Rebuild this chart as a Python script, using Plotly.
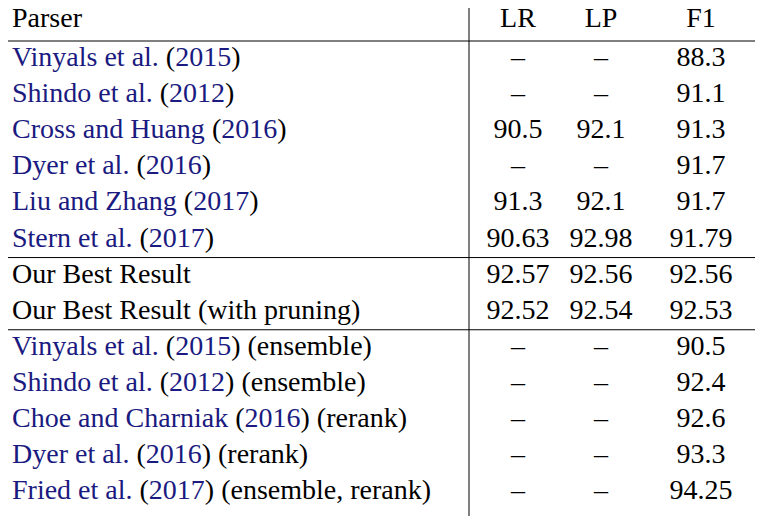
import plotly.graph_objects as go

authors = ["Vinyals et al.", "Shindo et al.", "Cross and Huang", "Dyer et al.", "Liu and Zhang",
           "Stern et al.", "Our Best Result", "Our Best Result (with pruning)", "Vinyals et al.",
           "Shindo et al.", "Choe and Charniak", "Dyer et al.", "Fried et al."]
years = ["2015", "2012", "2016", "2016", "2017", "2017", "", "", "2015", "2012", "2016", "2016", "2017"]
suffix = ["", "", "", "", "", "", "", "", " (ensemble)", " (ensemble)", " (rerank)", " (rerank)",
          " (ensemble, rerank)"]
lr = ["–", "–", "90.5", "–", "91.3", "90.63", "92.57", "92.52", "–", "–", "–", "–", "–"]
lp = ["–", "–", "92.1", "–", "92.1", "92.98", "92.56", "92.54", "–", "–", "–", "–", "–"]
f1 = ["88.3", "91.1", "91.3", "91.7", "91.7", "91.79", "92.56", "92.53", "90.5", "92.4", "92.6",
      "93.3", "94.25"]
headers = ["Parser", "LR", "LP", "F1"]

blue = "#1a1a80"
labels = []
for a, y, s in zip(authors, years, suffix):
    if y:
        labels.append(f"<span style='color:{blue}'>{a}</span> (<span style='color:{blue}'>{y}</span>){s}")
    else:
        labels.append(a + s)

# row centres in pixels
row_y = [51 + i * 36.1 for i in range(len(authors))]
head_y = 12
col_x = [4, 510, 593, 693]

font = dict(family="Liberation Serif", size=28, color="black")
fig = go.Figure()
fig.add_trace(go.Scatter(x=[col_x[0]] * len(labels), y=row_y, text=labels, mode="text",
                         textposition="middle right", textfont=font))
for cx, col in zip(col_x[1:], [lr, lp, f1]):
    fig.add_trace(go.Scatter(x=[cx] * len(col), y=row_y, text=col, mode="text",
                             textposition="middle center", textfont=font))
fig.add_trace(go.Scatter(x=col_x, y=[head_y] * 4, text=headers, mode="text",
                         textposition=["middle right", "middle center", "middle center", "middle center"],
                         textfont=font))

line = dict(color="black", width=1)
for yl in [33, (row_y[5] + row_y[6]) / 2, (row_y[7] + row_y[8]) / 2]:
    fig.add_shape(type="line", x0=-3, x1=755, y0=yl, y1=yl, line=line)
fig.add_shape(type="line", x0=461, x1=461, y0=-3, y1=520, line=line)

fig.update_layout(width=763, height=516, margin=dict(l=0, r=0, t=0, b=0), showlegend=False,
                  plot_bgcolor="white", paper_bgcolor="white",
                  xaxis=dict(range=[0, 763], visible=False),
                  yaxis=dict(range=[516, 0], visible=False))
fig.write_html("out.html")
